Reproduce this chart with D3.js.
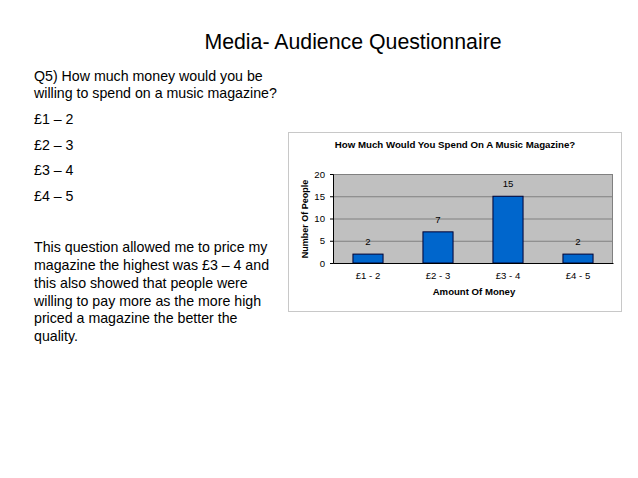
<!DOCTYPE html>
<html lang="en">
<head>
<meta charset="UTF-8">
<title>Media- Audience Questionnaire</title>
<script src="https://d3js.org/d3.v7.min.js"></script>
<style>
    body {margin: 0; background: white;}
    text {font-family: "Liberation Sans", Arial, sans-serif; fill: black;}
    .slide {font-size: 14.2px;}
    .tick text {font-size: 9.6px;}
</style>
</head>
<body>
<div id="chart"></div>
<script>
    var categories = ["£1 - 2", "£2 - 3", "£3 - 4", "£4 - 5"],
        people = [2, 7, 15, 2],
        yTicks = [0, 5, 10, 15, 20];

    var svg = d3.select("#chart").append("svg")
        .attr("width", 638)
        .attr("height", 478);

    // slide text
    svg.append("text")
        .attr("x", 353).attr("y", 49)
        .attr("text-anchor", "middle")
        .style("font-size", "21.3px")
        .text("Media- Audience Questionnaire");

    var leftLines = [
        ["Q5) How much money would you be", 81],
        ["willing to spend on a music magazine?", 98],
        ["£1 – 2", 124],
        ["£2 – 3", 150],
        ["£3 – 4", 175],
        ["£4 – 5", 201],
        ["This question allowed me to price my", 252],
        ["magazine the highest was £3 – 4 and", 270],
        ["this also showed that people were", 288],
        ["willing to pay more as the more high", 306],
        ["priced a magazine the better the", 323],
        ["quality.", 341]
    ];
    svg.selectAll(".slide").data(leftLines).enter().append("text")
        .attr("class", "slide")
        .attr("x", 34)
        .attr("y", function(d) {return d[1]})
        .text(function(d) {return d[0]});

    // chart box
    svg.append("rect")
        .attr("x", 288.5).attr("y", 132.5)
        .attr("width", 333).attr("height", 179)
        .attr("fill", "white")
        .attr("stroke", "#c8c8c8");

    var plot = {left: 333, right: 613, top: 174, bottom: 263};

    var x = d3.scaleBand()
        .domain(categories)
        .range([plot.left, plot.right])
        .paddingInner(0.57).paddingOuter(0.285);

    var y = d3.scaleLinear()
        .domain([0, 20])
        .range([plot.bottom, plot.top]);

    svg.append("rect")
        .attr("x", plot.left).attr("y", plot.top)
        .attr("width", plot.right - plot.left)
        .attr("height", plot.bottom - plot.top)
        .attr("fill", "#c0c0c0");

    svg.selectAll(".grid").data(yTicks.slice(1)).enter().append("line")
        .attr("class", "grid")
        .attr("x1", plot.left).attr("x2", plot.right)
        .attr("y1", function(d) {return y(d) + 0.5})
        .attr("y2", function(d) {return y(d) + 0.5})
        .attr("stroke", "#808080");

    svg.append("rect")
        .attr("x", plot.left + 0.5).attr("y", plot.top + 0.5)
        .attr("width", plot.right - plot.left - 1)
        .attr("height", plot.bottom - plot.top)
        .attr("fill", "none")
        .attr("stroke", "#808080");

    svg.selectAll(".bar").data(people).enter().append("rect")
        .attr("class", "bar")
        .attr("x", function(d, i) {return x(categories[i])})
        .attr("y", function(d) {return y(d)})
        .attr("width", x.bandwidth())
        .attr("height", function(d) {return y(0) - y(d)})
        .attr("fill", "#0066cc")
        .attr("stroke", "#000033")
        .attr("stroke-width", 1);

    svg.selectAll(".val").data(people).enter().append("text")
        .attr("class", "val")
        .attr("x", function(d, i) {return x(categories[i]) + x.bandwidth() / 2})
        .attr("y", function(d) {return y(d) - 9})
        .attr("text-anchor", "middle")
        .style("font-size", "9.6px")
        .text(function(d) {return d});

    var yAxis = svg.append("g")
        .attr("transform", "translate(" + plot.left + ",0)")
        .call(d3.axisLeft(y).tickValues(yTicks).tickSize(3).tickPadding(5));
    yAxis.select(".domain").attr("stroke", "#000");

    var xAxis = svg.append("g")
        .attr("transform", "translate(0," + plot.bottom + ")")
        .call(d3.axisBottom(x).tickSize(0).tickPadding(9));
    xAxis.select(".domain").attr("stroke", "#000");

    svg.append("text")
        .attr("x", 455).attr("y", 148)
        .attr("text-anchor", "middle")
        .style("font-size", "9.7px").style("font-weight", "bold")
        .text("How Much Would You Spend On A Music Magazine?");

    svg.append("text")
        .attr("x", 474).attr("y", 295)
        .attr("text-anchor", "middle")
        .style("font-size", "9.6px").style("font-weight", "bold")
        .text("Amount Of Money");

    svg.append("text")
        .attr("transform", "translate(308,219) rotate(-90)")
        .attr("text-anchor", "middle")
        .style("font-size", "9px").style("font-weight", "bold")
        .text("Number Of People");
</script>
</body>
</html>
